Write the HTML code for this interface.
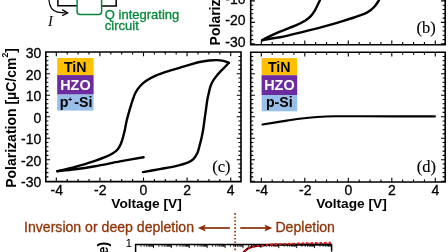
<!DOCTYPE html><html><head><meta charset="utf-8"><style>html,body{margin:0;padding:0;background:#fff;width:448px;height:252px;overflow:hidden}svg{display:block}</style></head><body>
<svg width="448" height="252" viewBox="0 0 448 252" font-family="'Liberation Sans', Arial, sans-serif">
<rect width="448" height="252" fill="#fff"/>
<path d="M57.9 -2V5.7H77" stroke="#000" stroke-width="1.5" fill="none"/>
<path d="M101.6 5.9H116.2V-2" stroke="#000" stroke-width="1.5" fill="none"/>
<path d="M77.1 -2V11.4Q77.1 14.4 80.1 14.4H98.6Q101.6 14.4 101.6 11.4V-2" stroke="#05873a" stroke-width="1.5" fill="none"/>
<path d="M48.9 0C49.4 6 52 11 57.5 12.1C61 12.8 64 12.9 67.3 13" stroke="#000" stroke-width="1.2" fill="none"/>
<path d="M62.2 9.6L67.6 13L62.2 15.6" stroke="#000" stroke-width="1.3" fill="none"/>
<text x="47.9" y="25.9" font-family="'Liberation Serif', 'Times New Roman', serif" font-style="italic" font-size="14.5" fill="#000">I</text>
<text font-size="13" fill="#05873a" stroke="#05873a" stroke-width="0.3"><tspan x="104.8" y="19">Q integrating</tspan><tspan x="104.8" y="30.4">circuit</tspan></text>
<path d="M261.3 44.7V40.5M272.18 44.7V42.1M283.05 44.7V42.1M293.93 44.7V42.1M304.8 44.7V40.5M315.68 44.7V42.1M326.55 44.7V42.1M337.43 44.7V42.1M348.3 44.7V40.5M359.18 44.7V42.1M370.05 44.7V42.1M380.93 44.7V42.1M391.8 44.7V40.5M402.68 44.7V42.1M413.55 44.7V42.1M424.43 44.7V42.1M435.3 44.7V40.5M250.7 43.9H254.9M445.2 43.9H441M250.7 39.6H253.3M445.2 39.6H442.6M250.7 35.3H253.3M445.2 35.3H442.6M250.7 31H253.3M445.2 31H442.6M250.7 26.7H253.3M445.2 26.7H442.6M250.7 22.4H254.9M445.2 22.4H441M250.7 18.1H253.3M445.2 18.1H442.6M250.7 13.8H253.3M445.2 13.8H442.6M250.7 9.5H253.3M445.2 9.5H442.6M250.7 5.2H253.3M445.2 5.2H442.6M250.7 0.9H254.9M445.2 0.9H441M250.7 -3.4H253.3M445.2 -3.4H442.6M250.7 -7.7H253.3M445.2 -7.7H442.6M250.7 -12H253.3M445.2 -12H442.6M250.7 -16.3H253.3M445.2 -16.3H442.6M250.7 -20.6H254.9M445.2 -20.6H441M250.7 -24.9H253.3M445.2 -24.9H442.6M250.7 -29.2H253.3M445.2 -29.2H442.6M250.7 -33.5H253.3M445.2 -33.5H442.6M250.7 -37.8H253.3M445.2 -37.8H442.6M250.7 -42.1H254.9M445.2 -42.1H441M250.7 -46.4H253.3M445.2 -46.4H442.6M250.7 -50.7H253.3M445.2 -50.7H442.6M250.7 -55H253.3M445.2 -55H442.6M250.7 -59.3H253.3M445.2 -59.3H442.6M250.7 -63.6H254.9M445.2 -63.6H441M250.7 -67.9H253.3M445.2 -67.9H442.6M250.7 -72.2H253.3M445.2 -72.2H442.6M250.7 -76.5H253.3M445.2 -76.5H442.6M250.7 -80.8H253.3M445.2 -80.8H442.6" stroke="#000" stroke-width="1.1" fill="none"/>
<path d="M250.7 44.7H445.2M250.7 -85.1V44.7M445.2 -85.1V44.7" stroke="#000" stroke-width="1.6" fill="none" stroke-linecap="square"/>
<text x="245.6" y="4.1" text-anchor="end" font-size="14" fill="#000" stroke="#000" stroke-width="0.3">-10</text>
<text x="245.6" y="25.3" text-anchor="end" font-size="14" fill="#000" stroke="#000" stroke-width="0.3">-20</text>
<text x="245.6" y="46.5" text-anchor="end" font-size="14" fill="#000" stroke="#000" stroke-width="0.3">-30</text>
<text transform="translate(220.3,45.4) rotate(-90)" font-weight="bold" font-size="14" fill="#000">Polarization [µC/cm<tspan dy="-7.8" font-size="8.7">2</tspan><tspan dy="7.8">]</tspan></text>
<text x="416.5" y="33.2" font-family="'Liberation Serif', 'Times New Roman', serif" font-size="16.5" fill="#000" stroke="#000" stroke-width="0.15">(b)</text>
<path d="M56.3 181.6V177.4M56.3 52V56.2M67.2 181.6V179M67.2 52V54.6M78.1 181.6V179M78.1 52V54.6M89 181.6V179M89 52V54.6M99.9 181.6V177.4M99.9 52V56.2M110.8 181.6V179M110.8 52V54.6M121.7 181.6V179M121.7 52V54.6M132.6 181.6V179M132.6 52V54.6M143.5 181.6V177.4M143.5 52V56.2M154.4 181.6V179M154.4 52V54.6M165.3 181.6V179M165.3 52V54.6M176.2 181.6V179M176.2 52V54.6M187.1 181.6V177.4M187.1 52V56.2M198 181.6V179M198 52V54.6M208.9 181.6V179M208.9 52V54.6M219.8 181.6V179M219.8 52V54.6M230.7 181.6V177.4M230.7 52V56.2M45.8 176.9H48.4M241 176.9H238.4M45.8 172.6H48.4M241 172.6H238.4M45.8 168.3H48.4M241 168.3H238.4M45.8 164H48.4M241 164H238.4M45.8 159.7H50M241 159.7H236.8M45.8 155.4H48.4M241 155.4H238.4M45.8 151.1H48.4M241 151.1H238.4M45.8 146.8H48.4M241 146.8H238.4M45.8 142.5H48.4M241 142.5H238.4M45.8 138.2H50M241 138.2H236.8M45.8 133.9H48.4M241 133.9H238.4M45.8 129.6H48.4M241 129.6H238.4M45.8 125.3H48.4M241 125.3H238.4M45.8 121H48.4M241 121H238.4M45.8 116.7H50M241 116.7H236.8M45.8 112.4H48.4M241 112.4H238.4M45.8 108.1H48.4M241 108.1H238.4M45.8 103.8H48.4M241 103.8H238.4M45.8 99.5H48.4M241 99.5H238.4M45.8 95.2H50M241 95.2H236.8M45.8 90.9H48.4M241 90.9H238.4M45.8 86.6H48.4M241 86.6H238.4M45.8 82.3H48.4M241 82.3H238.4M45.8 78H48.4M241 78H238.4M45.8 73.7H50M241 73.7H236.8M45.8 69.4H48.4M241 69.4H238.4M45.8 65.1H48.4M241 65.1H238.4M45.8 60.8H48.4M241 60.8H238.4M45.8 56.5H48.4M241 56.5H238.4" stroke="#000" stroke-width="1.1" fill="none"/>
<path d="M45.8 52H241M45.8 181.6H241M45.8 52V181.6M241 52V181.6" stroke="#000" stroke-width="1.6" fill="none" stroke-linecap="square"/>
<text x="41.3" y="58" text-anchor="end" font-size="14" fill="#000" stroke="#000" stroke-width="0.3">30</text>
<text x="41.3" y="79.5" text-anchor="end" font-size="14" fill="#000" stroke="#000" stroke-width="0.3">20</text>
<text x="41.3" y="101" text-anchor="end" font-size="14" fill="#000" stroke="#000" stroke-width="0.3">10</text>
<text x="41.3" y="122.5" text-anchor="end" font-size="14" fill="#000" stroke="#000" stroke-width="0.3">0</text>
<text x="41.3" y="144" text-anchor="end" font-size="14" fill="#000" stroke="#000" stroke-width="0.3">-10</text>
<text x="41.3" y="165.5" text-anchor="end" font-size="14" fill="#000" stroke="#000" stroke-width="0.3">-20</text>
<text x="41.3" y="187" text-anchor="end" font-size="14" fill="#000" stroke="#000" stroke-width="0.3">-30</text>
<text x="56.7" y="194.7" text-anchor="middle" font-size="14" fill="#000" stroke="#000" stroke-width="0.3">-4</text>
<text x="100.3" y="194.7" text-anchor="middle" font-size="14" fill="#000" stroke="#000" stroke-width="0.3">-2</text>
<text x="143.5" y="194.7" text-anchor="middle" font-size="14" fill="#000" stroke="#000" stroke-width="0.3">0</text>
<text x="187.1" y="194.7" text-anchor="middle" font-size="14" fill="#000" stroke="#000" stroke-width="0.3">2</text>
<text x="230.7" y="194.7" text-anchor="middle" font-size="14" fill="#000" stroke="#000" stroke-width="0.3">4</text>
<text x="146.5" y="208.3" text-anchor="middle" font-weight="bold" font-size="13.7" fill="#000">Voltage [V]</text>
<text transform="translate(16,187.8) rotate(-90)" font-weight="bold" font-size="14" fill="#000">Polarization [µC/cm<tspan dy="-7.8" font-size="8.7">2</tspan><tspan dy="7.8">]</tspan></text>
<text x="212.3" y="172.2" font-family="'Liberation Serif', 'Times New Roman', serif" font-size="16.5" fill="#000" stroke="#000" stroke-width="0.15">(c)</text>
<path d="M261.3 182V177.8M261.3 52.2V56.4M272.18 182V179.4M272.18 52.2V54.8M283.05 182V179.4M283.05 52.2V54.8M293.93 182V179.4M293.93 52.2V54.8M304.8 182V177.8M304.8 52.2V56.4M315.68 182V179.4M315.68 52.2V54.8M326.55 182V179.4M326.55 52.2V54.8M337.43 182V179.4M337.43 52.2V54.8M348.3 182V177.8M348.3 52.2V56.4M359.18 182V179.4M359.18 52.2V54.8M370.05 182V179.4M370.05 52.2V54.8M380.93 182V179.4M380.93 52.2V54.8M391.8 182V177.8M391.8 52.2V56.4M402.68 182V179.4M402.68 52.2V54.8M413.55 182V179.4M413.55 52.2V54.8M424.43 182V179.4M424.43 52.2V54.8M435.3 182V177.8M435.3 52.2V56.4M250.7 181.2H254.9M445.2 181.2H441M250.7 176.9H253.3M445.2 176.9H442.6M250.7 172.6H253.3M445.2 172.6H442.6M250.7 168.3H253.3M445.2 168.3H442.6M250.7 164H253.3M445.2 164H442.6M250.7 159.7H254.9M445.2 159.7H441M250.7 155.4H253.3M445.2 155.4H442.6M250.7 151.1H253.3M445.2 151.1H442.6M250.7 146.8H253.3M445.2 146.8H442.6M250.7 142.5H253.3M445.2 142.5H442.6M250.7 138.2H254.9M445.2 138.2H441M250.7 133.9H253.3M445.2 133.9H442.6M250.7 129.6H253.3M445.2 129.6H442.6M250.7 125.3H253.3M445.2 125.3H442.6M250.7 121H253.3M445.2 121H442.6M250.7 116.7H254.9M445.2 116.7H441M250.7 112.4H253.3M445.2 112.4H442.6M250.7 108.1H253.3M445.2 108.1H442.6M250.7 103.8H253.3M445.2 103.8H442.6M250.7 99.5H253.3M445.2 99.5H442.6M250.7 95.2H254.9M445.2 95.2H441M250.7 90.9H253.3M445.2 90.9H442.6M250.7 86.6H253.3M445.2 86.6H442.6M250.7 82.3H253.3M445.2 82.3H442.6M250.7 78H253.3M445.2 78H442.6M250.7 73.7H254.9M445.2 73.7H441M250.7 69.4H253.3M445.2 69.4H442.6M250.7 65.1H253.3M445.2 65.1H442.6M250.7 60.8H253.3M445.2 60.8H442.6M250.7 56.5H253.3M445.2 56.5H442.6" stroke="#000" stroke-width="1.1" fill="none"/>
<path d="M250.7 52.2H445.2M250.7 182H445.2M250.7 52.2V182M445.2 52.2V182" stroke="#000" stroke-width="1.6" fill="none" stroke-linecap="square"/>
<text x="261.7" y="194.7" text-anchor="middle" font-size="14" fill="#000" stroke="#000" stroke-width="0.3">-4</text>
<text x="305.2" y="194.7" text-anchor="middle" font-size="14" fill="#000" stroke="#000" stroke-width="0.3">-2</text>
<text x="348.3" y="194.7" text-anchor="middle" font-size="14" fill="#000" stroke="#000" stroke-width="0.3">0</text>
<text x="391.8" y="194.7" text-anchor="middle" font-size="14" fill="#000" stroke="#000" stroke-width="0.3">2</text>
<text x="435.3" y="194.7" text-anchor="middle" font-size="14" fill="#000" stroke="#000" stroke-width="0.3">4</text>
<text x="351.5" y="208.3" text-anchor="middle" font-weight="bold" font-size="13.7" fill="#000">Voltage [V]</text>
<text x="416.8" y="171.6" font-family="'Liberation Serif', 'Times New Roman', serif" font-size="16.5" fill="#000" stroke="#000" stroke-width="0.15">(d)</text>
<rect x="57.2" y="58" width="36.4" height="17.1" fill="#ffc000"/>
<rect x="57.2" y="75.1" width="36.4" height="19.5" fill="#6b2c9f"/>
<rect x="57.2" y="94.6" width="36.4" height="16" fill="#97bfe8"/>
<text x="75.2" y="71.95" text-anchor="middle" font-weight="bold" font-size="14.2" fill="#000">TiN</text>
<text x="75.4" y="89.7" text-anchor="middle" font-weight="bold" font-size="14.4" fill="#fff">HZO</text>
<text font-weight="bold" font-size="14.2" fill="#000"><tspan x="59.7" y="107.3">p</tspan><tspan x="67.9" y="101.6" font-size="7.4">+</tspan><tspan x="74.2" y="107.3">-Si</tspan></text>
<rect x="261.6" y="58.1" width="35.6" height="17.1" fill="#ffc000"/>
<rect x="261.6" y="75.2" width="35.6" height="19.8" fill="#6b2c9f"/>
<rect x="261.6" y="95" width="35.6" height="16.3" fill="#97bfe8"/>
<text x="279.2" y="72.05" text-anchor="middle" font-weight="bold" font-size="14.2" fill="#000">TiN</text>
<text x="279.4" y="89.8" text-anchor="middle" font-weight="bold" font-size="14.4" fill="#fff">HZO</text>
<text x="279.3" y="107.4" text-anchor="middle" font-weight="bold" font-size="14.2" fill="#000">p-Si</text>
<path d="M143.6 157.2C139.67 157.9 128.1 159.9 120 161.4C111.9 162.9 102.5 164.88 95 166.2C87.5 167.52 81.28 168.47 75 169.3C68.72 170.13 60.25 170.88 57.3 171.2" stroke="#000" stroke-width="2.4" fill="none" stroke-linejoin="round" stroke-linecap="round"/>
<path d="M57.3 171.2C60.25 170.5 68.72 168.72 75 167C81.28 165.28 90.02 162.53 95 160.9C99.98 159.27 101.92 158.48 104.9 157.2C107.88 155.92 110.75 154.53 112.9 153.2C115.05 151.87 116.48 150.73 117.8 149.2C119.12 147.67 119.97 145.87 120.8 144C121.63 142.13 122.13 140.33 122.8 138C123.47 135.67 124.15 132.92 124.8 130C125.45 127.08 125.92 123.78 126.7 120.5C127.48 117.22 128.55 113.58 129.5 110.3C130.45 107.02 131.4 103.72 132.4 100.8C133.4 97.88 134.2 95.27 135.5 92.8C136.8 90.33 138.42 88 140.2 86C141.98 84 143.62 82.53 146.2 80.8C148.78 79.07 152.13 77.18 155.7 75.6C159.27 74.02 163.63 72.6 167.6 71.3C171.57 70 175.77 68.92 179.5 67.8C183.23 66.68 186.67 65.57 190 64.6C193.33 63.63 196.33 62.68 199.5 62C202.67 61.32 206.08 60.82 209 60.5C211.92 60.18 214.62 60.05 217 60.1C219.38 60.15 221.32 60.35 223.3 60.8C225.28 61.25 227.97 62.47 228.9 62.8" stroke="#000" stroke-width="2.4" fill="none" stroke-linejoin="round" stroke-linecap="round"/>
<path d="M228.9 62.8C228.1 63.65 225.68 66.27 224.1 67.9C222.52 69.53 220.85 71.02 219.4 72.6C217.95 74.18 216.6 75.8 215.4 77.4C214.2 79 213.05 80.62 212.2 82.2C211.35 83.78 210.83 85.27 210.3 86.9C209.77 88.53 209.5 89.82 209 92C208.5 94.18 207.82 97 207.3 100C206.78 103 206.33 106.95 205.9 110C205.47 113.05 205.17 114.97 204.7 118.3C204.23 121.63 203.63 126.73 203.1 130C202.57 133.27 202.1 135.25 201.5 137.9C200.9 140.55 200.17 143.42 199.5 145.9C198.83 148.38 198.48 150.65 197.5 152.8C196.52 154.95 195.25 157.15 193.6 158.8C191.95 160.45 190.58 161.48 187.6 162.7C184.62 163.92 180.33 165.03 175.7 166.1C171.07 167.17 165.25 168.1 159.8 169.1C154.35 170.1 145.8 171.6 143 172.1" stroke="#000" stroke-width="2.4" fill="none" stroke-linejoin="round" stroke-linecap="round"/>
<path d="M262.2 40.2C263.5 39.52 267.03 37.53 270 36.1C272.97 34.67 275.68 33.38 280 31.6C284.32 29.82 291.67 27.23 295.9 25.4C300.13 23.57 302.88 22.18 305.4 20.6C307.92 19.02 309.42 17.62 311 15.9C312.58 14.18 313.72 12.28 314.9 10.3C316.08 8.32 317.3 5.58 318.1 4C318.9 2.42 319.3 1.83 319.7 0.8C320.1 -0.23 320.37 -1.7 320.5 -2.2" stroke="#000" stroke-width="2.4" fill="none" stroke-linejoin="round" stroke-linecap="round"/>
<path d="M262.2 40.2C263.5 39.95 267.03 39.2 270 38.7C272.97 38.2 275 38.22 280 37.2C285 36.18 293.33 34.2 300 32.6C306.67 31 315 28.88 320 27.6C325 26.32 326.1 26.02 330 24.9C333.9 23.78 339.38 22.13 343.4 20.9C347.42 19.67 350.75 18.62 354.1 17.5C357.45 16.38 360.82 15.38 363.5 14.2C366.18 13.02 368.32 11.73 370.2 10.4C372.08 9.07 373.47 7.68 374.8 6.2C376.13 4.72 377.33 2.9 378.2 1.5C379.07 0.1 379.7 -1.58 380 -2.2" stroke="#000" stroke-width="2.4" fill="none" stroke-linejoin="round" stroke-linecap="round"/>
<path d="M262.5 124.5C265.72 123.98 275.62 122.37 281.8 121.4C287.98 120.43 293.65 119.43 299.6 118.7C305.55 117.97 311.6 117.4 317.5 117C323.4 116.6 327.92 116.42 335 116.3C342.08 116.18 343.35 116.28 360 116.3C376.65 116.32 422.42 116.38 434.9 116.4" stroke="#000" stroke-width="2.1" fill="none" stroke-linejoin="round" stroke-linecap="round"/>
<text x="24" y="231.9" font-size="14.1" fill="#8e3509" stroke="#8e3509" stroke-width="0.3">Inversion or deep depletion</text>
<path d="M229.9 228H203" stroke="#8b2e08" stroke-width="1.7"/>
<path d="M197.8 228L205.8 224.5L204 228L205.8 231.5Z" fill="#8b2e08"/>
<path d="M240.2 228H267" stroke="#8b2e08" stroke-width="1.7"/>
<path d="M272.4 228L264.4 224.5L266.2 228L264.4 231.5Z" fill="#8b2e08"/>
<text x="275.4" y="231.9" font-size="14.1" fill="#8e3509" stroke="#8e3509" stroke-width="0.3">Depletion</text>
<path d="M235.1 213.1V253" stroke="#8b2e08" stroke-width="1.6" stroke-dasharray="1.6 1.95"/>
<path d="M135.6 253V244.5H331.6V251.5" stroke="#000" stroke-width="1.5" fill="none"/>
<path d="M140.99 244.5V246.7M144.14 244.5V246.7M146.38 244.5V246.7M148.11 244.5V246.7M149.53 244.5V246.7M150.73 244.5V246.7M151.77 244.5V246.7M152.68 244.5V246.7M153.5 244.5V248.1M158.89 244.5V246.7M162.04 244.5V246.7M164.28 244.5V246.7M166.01 244.5V246.7M167.43 244.5V246.7M168.63 244.5V246.7M169.67 244.5V246.7M170.58 244.5V246.7M171.4 244.5V248.1M176.79 244.5V246.7M179.94 244.5V246.7M182.18 244.5V246.7M183.91 244.5V246.7M185.33 244.5V246.7M186.53 244.5V246.7M187.57 244.5V246.7M188.48 244.5V246.7M189.3 244.5V248.1M194.69 244.5V246.7M197.84 244.5V246.7M200.08 244.5V246.7M201.81 244.5V246.7M203.23 244.5V246.7M204.43 244.5V246.7M205.47 244.5V246.7M206.38 244.5V246.7M207.2 244.5V248.1M212.59 244.5V246.7M215.74 244.5V246.7M217.98 244.5V246.7M219.71 244.5V246.7M221.13 244.5V246.7M222.33 244.5V246.7M223.37 244.5V246.7M224.28 244.5V246.7M225.1 244.5V248.1M230.49 244.5V246.7M233.64 244.5V246.7M235.88 244.5V246.7M237.61 244.5V246.7M239.03 244.5V246.7M240.23 244.5V246.7M241.27 244.5V246.7M242.18 244.5V246.7M243 244.5V248.1M248.39 244.5V246.7M251.54 244.5V246.7M253.78 244.5V246.7M255.51 244.5V246.7M256.93 244.5V246.7M258.13 244.5V246.7M259.17 244.5V246.7M260.08 244.5V246.7M260.9 244.5V248.1M266.29 244.5V246.7M269.44 244.5V246.7M271.68 244.5V246.7M273.41 244.5V246.7M274.83 244.5V246.7M276.03 244.5V246.7M277.07 244.5V246.7M277.98 244.5V246.7M278.8 244.5V248.1M284.19 244.5V246.7M287.34 244.5V246.7M289.58 244.5V246.7M291.31 244.5V246.7M292.73 244.5V246.7M293.93 244.5V246.7M294.97 244.5V246.7M295.88 244.5V246.7M296.7 244.5V248.1M302.09 244.5V246.7M305.24 244.5V246.7M307.48 244.5V246.7M309.21 244.5V246.7M310.63 244.5V246.7M311.83 244.5V246.7M312.87 244.5V246.7M313.78 244.5V246.7M314.6 244.5V248.1M319.99 244.5V246.7M323.14 244.5V246.7M325.38 244.5V246.7M327.11 244.5V246.7M328.53 244.5V246.7M329.73 244.5V246.7M330.77 244.5V246.7" stroke="#000" stroke-width="0.9"/>
<path d="M243.2 252.6C246.5 249 249 247.4 252 246.8C256 246 262 245.4 272 244.8C290 244.4 310 244.4 331 244.4" stroke="#000" stroke-width="2" fill="none"/>
<path d="M244.6 251.2C247.2 248.6 249.6 247.4 252.5 246.8C257 246 263 245.3 272 244.6C290 243.6 310 243 331 242.7" stroke="#f01010" stroke-width="1.8" fill="none" stroke-dasharray="2.6 1.9"/>
<text x="125.4" y="247.2" font-size="11.8" fill="#000">1</text>
<text transform="translate(108.2,241.8) rotate(-90)" text-anchor="end" font-weight="bold" font-size="14" fill="#000">Norm. charge)</text>
</svg></body></html>
